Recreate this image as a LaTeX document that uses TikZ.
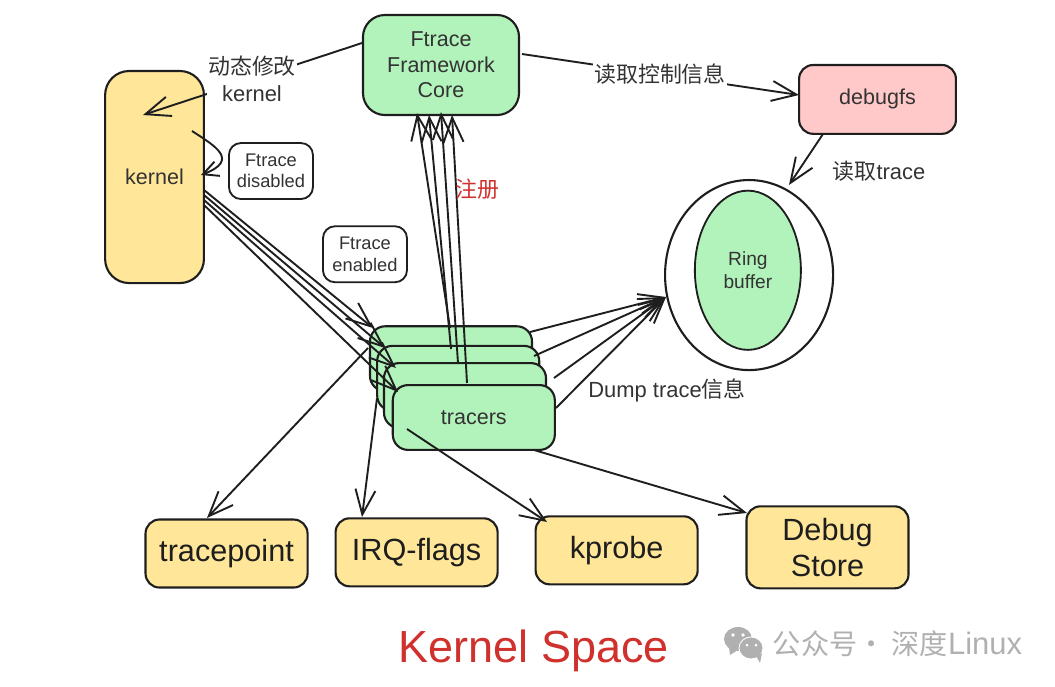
\documentclass[tikz,border=0pt]{standalone}
\usepackage{fontspec}
\setmainfont{Liberation Sans}
\newfontfamily\cjk{Noto Sans CJK SC}
\usepackage{tikz}
\usetikzlibrary{arrows.meta,shapes.geometric}
\definecolor{inkc}{HTML}{1E1E1E}
\definecolor{textc}{HTML}{333333}
\definecolor{greenc}{HTML}{B2F2BB}
\definecolor{yellowc}{HTML}{FFE699}
\definecolor{pinkc}{HTML}{FFC9C9}
\definecolor{redc}{HTML}{D0312D}
\definecolor{markc}{HTML}{B0B0B0}
\tikzstyle{framework} = [rectangle, draw=inkc, fill=greenc, line width=1.5pt, text=textc,
	align=center, inner sep=0pt, rounded corners=0.55cm,
	minimum width=3.9cm, minimum height=2.5cm, font=\fontsize{15.3}{18}\selectfont]
\tikzstyle{debugbox} = [rectangle, draw=inkc, fill=pinkc, line width=1.5pt, text=textc,
	align=center, inner sep=0pt, rounded corners=0.35cm,
	minimum width=3.92cm, minimum height=1.72cm, font=\fontsize{15.3}{18}\selectfont]
\tikzstyle{kernelbox} = [rectangle, draw=inkc, fill=yellowc, line width=1.5pt, text=textc,
	align=center, inner sep=0pt, rounded corners=0.6cm,
	minimum width=2.47cm, minimum height=5.3cm, font=\fontsize{15.3}{18}\selectfont]
\tikzstyle{state} = [rectangle, draw=inkc, fill=white, line width=1.3pt, text=textc,
	align=center, inner sep=0pt, rounded corners=0.3cm,
	minimum width=2.1cm, minimum height=1.4cm, font=\fontsize{13}{15}\selectfont]
\tikzstyle{tracer} = [rectangle, draw=inkc, fill=greenc, line width=1.5pt, text=textc,
	align=center, inner sep=0pt, rounded corners=0.38cm,
	minimum width=4.05cm, minimum height=1.62cm, font=\fontsize{15.3}{18}\selectfont]
\tikzstyle{probe} = [rectangle, draw=inkc, fill=yellowc, line width=1.5pt, text=inkc,
	align=center, inner sep=0pt, rounded corners=0.35cm,
	minimum width=4.05cm, minimum height=1.7cm, font=\fontsize{21.8}{26}\selectfont]
\tikzstyle{ringout} = [ellipse, draw=inkc, fill=white, line width=1.5pt, inner sep=0pt,
	minimum width=4.2cm, minimum height=4.75cm]
\tikzstyle{ringin} = [ellipse, draw=inkc, fill=greenc, line width=1.3pt, text=textc,
	align=center, inner sep=0pt, minimum width=2.65cm, minimum height=3.98cm,
	font=\fontsize{13.6}{16}\selectfont]
\tikzstyle{tag} = [fill=white, inner sep=1pt, align=center, text=textc,
	font=\fontsize{15.6}{19}\selectfont]
\tikzstyle{line} = [draw=inkc, line width=1.35pt,
	-{Straight Barb[length=0.62cm,width=0.5cm]}]
\begin{document}
\begin{tikzpicture}[x=0.025cm, y=-0.025cm, node distance=2cm]
	\useasboundingbox (0,0) rectangle (1055,686);

	% Place nodes
	\node [framework] (core) at (441,65) {Ftrace\\Framework\\Core};
	\node [debugbox, right of=core, node distance=10.91cm, yshift=-0.86cm] (debugfs) {debugfs};
	\node [kernelbox, left of=core, node distance=7.16cm, yshift=-2.8cm] (kernel) {kernel};
	\node [state, right of=kernel, node distance=2.91cm, yshift=0.15cm] (disabled) {Ftrace\\disabled};
	\node [state, right of=disabled, node distance=2.35cm, yshift=-2.08cm] (enabled) {Ftrace\\enabled};
	\node [ringout, right of=core, node distance=7.7cm, yshift=-5.25cm] (ringOut) {};
	\node [ringin, below of=debugfs, node distance=4.27cm, xshift=-3.24cm] (ringIn) {Ring\\buffer};
	\node [tracer, below of=core, node distance=7.34cm, xshift=0.25cm] (tracerA) {};
	\node [tracer, below of=tracerA, node distance=0.49cm, xshift=0.18cm] (tracerB) {};
	\node [tracer, below of=tracerB, node distance=0.43cm, xshift=0.17cm] (tracerC) {};
	\node [tracer, below of=tracerC, node distance=0.55cm, xshift=0.22cm] (tracers) {tracers};
	\node [probe, below of=tracers, node distance=3.4cm, xshift=-6.18cm] (tracepoint) {tracepoint};
	\node [probe, right of=tracepoint, node distance=4.75cm, yshift=0.03cm] (irq) {IRQ-flags};
	\node [probe, right of=irq, node distance=5cm, yshift=0.05cm] (kprobe) {kprobe};
	\node [probe, right of=kprobe, node distance=5.27cm, yshift=0.075cm, minimum height=2.05cm] (debugstore) {Debug\\Store};

	% Free ends of the edges
	\coordinate (coreOut) at (362,43);
	\coordinate (kernelIn) at (143,115);
	\coordinate (coreRight) at (522,54);
	\coordinate (debugIn) at (799,95);
	\coordinate (debugOut) at (823,134);
	\coordinate (ringTop) at (789,185);
	\coordinate (loopOut) at (192,131);
	\coordinate (loopIn) at (201,175);
	\coordinate (kernelA) at (204,190);
	\coordinate (kernelB) at (204,195);
	\coordinate (kernelC) at (204,200);
	\coordinate (kernelD) at (204,205);
	\coordinate (cornerA) at (373,328);
	\coordinate (cornerB) at (385,348);
	\coordinate (cornerC) at (396,368);
	\coordinate (cornerD) at (398,392);
	\coordinate (upA) at (450,328);
	\coordinate (upB) at (451,349);
	\coordinate (upC) at (458,363);
	\coordinate (upD) at (467,383);
	\coordinate (coreInA) at (417,113);
	\coordinate (coreInB) at (429,115);
	\coordinate (coreInC) at (441,112);
	\coordinate (coreInD) at (452,115);
	\coordinate (ringTip) at (666,297);
	\coordinate (outA) at (530,332);
	\coordinate (outB) at (534,356);
	\coordinate (outC) at (554,378);
	\coordinate (outD) at (556,408);
	\coordinate (pointOut) at (368,348);
	\coordinate (pointIn) at (207,518);
	\coordinate (irqOut) at (377,398);
	\coordinate (irqIn) at (362,517);
	\coordinate (kprobeOut) at (407,429);
	\coordinate (kprobeIn) at (547,522);
	\coordinate (storeOut) at (534,450);
	\coordinate (storeIn) at (747,513);

	% Draw edges
	\path [line] (coreOut) -- (kernelIn);
	\path [line] (coreRight) -- (debugIn);
	\path [line] (debugOut) -- (ringTop);
	\path [line, -{Straight Barb[length=0.38cm,width=0.38cm]}] (loopOut) .. controls (215,146) and (240,160) .. (loopIn);
	\path [line] (kernelA) -- (cornerA);
	\path [line] (kernelB) -- (cornerB);
	\path [line] (kernelC) -- (cornerC);
	\path [line] (kernelD) -- (cornerD);
	\path [line] (upA) -- (coreInA);
	\path [line] (upB) -- (coreInB);
	\path [line] (upC) -- (coreInC);
	\path [line] (upD) -- (coreInD);
	\path [line] (outA) -- (ringTip);
	\path [line] (outB) -- (ringTip);
	\path [line] (outC) -- (ringTip);
	\path [line] (outD) -- (ringTip);
	\path [line] (pointOut) -- (pointIn);
	\path [line] (irqOut) -- (irqIn);
	\path [line] (kprobeOut) -- (kprobeIn);
	\path [line] (storeOut) -- (storeIn);

	% Labels
	\node [tag] (modify) at (252,79) {{\cjk 动态修改}\\kernel};
	\node [tag] (readinfo) at (660,74) {\cjk 读取控制信息};
	\node [tag, fill=none] (readtrace) at (879,171) {{\cjk 读取}trace};
	\node [tag, fill=none, text=redc] (register) at (477,189) {\cjk 注册};
	\node [tag, fill=none] (dump) at (667,390) {Dump trace{\cjk 信息}};
	\node [text=redc, font=\fontsize{32}{36}\selectfont] (space) at (534,651) {Kernel Space};

	% Mark in the corner
	\fill [markc] (738,639) ellipse [x radius=14, y radius=12];
	\fill [markc] (729,647) -- (730,655) -- (738,650) -- cycle;
	\fill [markc, draw=white, line width=0.6pt] (751,648) ellipse [x radius=12, y radius=11];
	\fill [markc] (756,656) -- (760,663) -- (762,653) -- cycle;
	\fill [white] (733,635) circle (1.8) (743,635) circle (1.8) (747,645) circle (1.5) (756,645) circle (1.5);
	\node [text=markc, font=\fontsize{20}{24}\selectfont] (mark) at (897.5,644)
		{{\cjk 公众号·}\hspace{4.5pt}{\cjk 深度}{\fontsize{22}{24}\selectfont Linux}};
\end{tikzpicture}
\end{document}
